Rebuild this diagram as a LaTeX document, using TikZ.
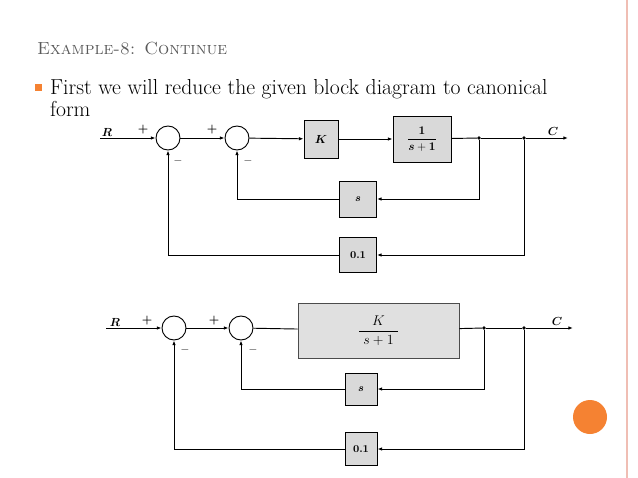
\documentclass[tikz,border=0pt]{standalone}
\usepackage{amsmath,bm}
\usepackage{tikz}
\usetikzlibrary{positioning,arrows.meta}
\definecolor{slidegray}{RGB}{90,90,90}
\definecolor{accent}{RGB}{245,130,50}
\definecolor{edgepink}{RGB}{240,190,180}
\begin{document}
\begin{tikzpicture}[x=0.03cm, y=-0.03cm, >={Latex[length=4pt]},
    block/.style={draw=black, fill=black!15, thick, inner sep=0pt},
    sum/.style={circle, draw=black, thick, minimum size=0.72cm, inner sep=0pt},
    dot/.style={circle, fill=black, inner sep=0pt, minimum size=3pt},
    sgn/.style={font=\normalsize\bfseries},
    lab/.style={font=\normalsize},
    line/.style={thick}]
    \useasboundingbox (0,0) rectangle (638,478);
    \draw [edgepink, line width=1.5pt] (627,0) -- (627,478);
    \fill [accent] (590,417) circle (17);

    % heading and bullet
    \node [anchor=west, text=slidegray, font=\fontsize{15}{18}\selectfont] (head) at (33,48) {\textsc{Example-8: Continue}};
    \fill [accent] (35,84) rectangle (42,91);
    \node [anchor=west, font=\fontsize{18.5}{19}\selectfont, align=left] (txt) at (46,98)
      {First we will reduce the given block diagram to canonical\\form};

    % first diagram
    \node [anchor=south, lab] (R1) at (107,141) {$\bm R$};
    \coordinate (r1) at (100,138);
    \node [sum] (s11) at (168,138) {};
    \node [sum] (s12) at (237,138) {};
    \node [block, minimum width=1.02cm, minimum height=1.14cm] (K1) at (321,139) {$\bm K$};
    \node [block, minimum width=1.74cm, minimum height=1.38cm] (G1) at (422,139) {$\dfrac{\mathbf 1}{\bm s+\mathbf 1}$};
    \node [dot] (j11) at (479,138) {};
    \node [dot] (j12) at (524,138) {};
    \coordinate (c1) at (568,138);
    \node [anchor=south, lab] (C1) at (553,140) {$\bm C$};
    \node [block, minimum width=1.11cm, minimum height=1.08cm] (H1) at (358,199) {\small $\bm s$};
    \node [block, minimum width=1.11cm, minimum height=1.05cm] (F1) at (358,255) {\small\bfseries 0.1};
    \node [sgn] at (143,130) {+};
    \node [sgn] at (212,130) {+};
    \node [sgn] at (178,163) {--};
    \node [sgn] at (248,163) {--};

    \draw [line,->] (r1) -- (s11);
    \draw [line,->] (s11) -- (s12);
    \draw [line,->] (s12) -- (K1);
    \draw [line,->] (K1) -- (G1);
    \draw [line] (G1) -- (j11);
    \draw [line] (j11) -- (j12);
    \draw [line,->] (j12) -- (c1);
    \draw [line,->] (j11) |- (H1);
    \draw [line,->] (H1) -| (s12);
    \draw [line,->] (j12) |- (F1);
    \draw [line,->] (F1) -| (s11);

    % reduced diagram
    \node [anchor=south, lab] (R2) at (115,331) {$\bm R$};
    \coordinate (r2) at (106,328);
    \node [sum] (s21) at (174,328) {};
    \node [sum] (s22) at (241,328) {};
    \node [block, fill=black!12, draw=black!70, semithick, minimum width=4.83cm, minimum height=1.65cm, font=\large] (G2) at (378.5,330.5) {$\dfrac{K}{\;s+1\;}$};
    \node [dot] (j21) at (484,328) {};
    \node [dot] (j22) at (524,328) {};
    \coordinate (c2) at (573,328);
    \node [anchor=south, lab] (C2) at (557,330) {$\bm C$};
    \node [block, minimum width=0.96cm, minimum height=0.96cm] (H2) at (361,389) {\small $\bm s$};
    \node [block, minimum width=0.96cm, minimum height=0.99cm] (F2) at (361,449) {\small\bfseries 0.1};
    \node [sgn] at (147,321) {+};
    \node [sgn] at (214,321) {+};
    \node [sgn] at (185,352) {--};
    \node [sgn] at (253,352) {--};

    \draw [line,->] (r2) -- (s21);
    \draw [line,->] (s21) -- (s22);
    \draw [line] (s22) -- (G2);
    \draw [line] (G2) -- (j21);
    \draw [line] (j21) -- (j22);
    \draw [line,->] (j22) -- (c2);
    \draw [line,->] (j21) |- (H2);
    \draw [line,->] (H2) -| (s22);
    \draw [line,->] (j22) |- (F2);
    \draw [line,->] (F2) -| (s21);
\end{tikzpicture}
\end{document}
